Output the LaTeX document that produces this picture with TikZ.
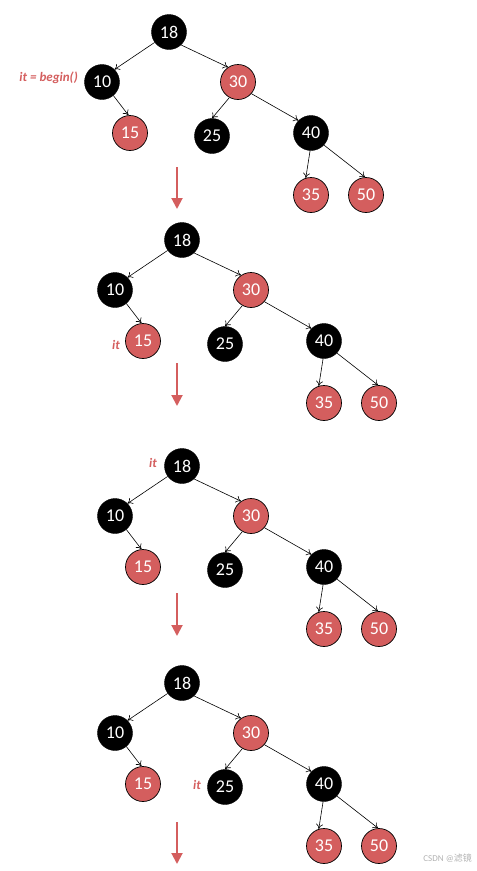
\documentclass[tikz,border=0pt]{standalone}
\usepackage{fontspec}
\setmainfont{Carlito}
\newfontfamily\cjk{Noto Sans CJK SC}
\usetikzlibrary{arrows.meta}
\definecolor{rbred}{RGB}{212,94,94}
\tikzset{
  blk/.style={circle, fill=black, draw=black, minimum size=35pt, inner sep=0pt, text=white, font=\fontsize{18}{18}\selectfont},
  rd/.style={circle, fill=rbred, draw=black, line width=0.7pt, minimum size=35pt, inner sep=0pt, text=white, font=\fontsize{18}{18}\selectfont},
  edge/.style={-{To[length=5pt,width=7pt]}, line width=0.6pt},
  itlabel/.style={text=rbred, font=\fontsize{13}{13}\selectfont\bfseries\itshape, inner sep=0pt},
  steparrow/.style={draw=rbred, line width=2pt, -{Triangle[length=11pt,width=11pt]}}
}
\newcommand\rbtree[3]{%
  \begin{scope}[shift={(#1,#2)}]
    \node[blk] (#3n18) at (0,0) {18};
    \node[blk] (#3n10) at (-67,50) {10};
    \node[rd]  (#3n30) at (69,50) {30};
    \node[rd]  (#3n15) at (-39,101) {15};
    \node[blk] (#3n25) at (43,104) {25};
    \node[blk] (#3n40) at (142,101) {40};
    \node[rd]  (#3n35) at (142,163) {35};
    \node[rd]  (#3n50) at (197,163) {50};
    \draw[edge] (#3n18.216) -- (#3n10.45);
    \draw[edge] (#3n18.-47) -- (#3n30.124);
    \draw[edge] (#3n10.-50) -- (#3n15.95);
    \draw[edge] (#3n30.-119) -- (#3n25.90);
    \draw[edge] (#3n30.-41) -- (#3n40.135);
    \draw[edge] (#3n40.-93) -- (#3n35.107);
    \draw[edge] (#3n40.-43) -- (#3n50.93);
  \end{scope}}
\begin{document}
\begin{tikzpicture}[x=1pt,y=-1pt]
  \useasboundingbox (0,0) rectangle (477,871);
  \rbtree{169}{32}{a}
  \rbtree{182}{240}{b}
  \rbtree{182}{466}{c}
  \rbtree{182}{683}{d}
  % labels
  \node[itlabel, anchor=east] (lab1) at (78,78) {it = begin()};
  \node[itlabel, anchor=east] (lab2) at (120,345) {it};
  \node[itlabel, anchor=east] (lab3) at (157,463) {it};
  \node[itlabel, anchor=east] (lab4) at (201,785) {it};
  % step arrows
  \coordinate (s1a) at (177,167); \coordinate (s1b) at (177,209);
  \coordinate (s2a) at (177,363); \coordinate (s2b) at (177,406);
  \coordinate (s3a) at (177,593); \coordinate (s3b) at (177,636);
  \coordinate (s4a) at (177,822); \coordinate (s4b) at (177,864);
  \draw[steparrow] (s1a) -- (s1b);
  \draw[steparrow] (s2a) -- (s2b);
  \draw[steparrow] (s3a) -- (s3b);
  \draw[steparrow] (s4a) -- (s4b);
  % watermark
  \node[anchor=east, text=black!30, font=\fontsize{9}{9}\selectfont, inner sep=0pt] (wm) at (472,858) {CSDN @{\cjk 滤镜}};
\end{tikzpicture}
\end{document}
